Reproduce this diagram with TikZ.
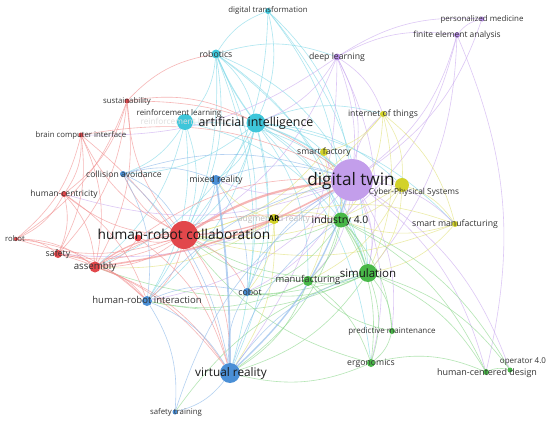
\documentclass[tikz,border=0pt]{standalone}
\usepackage{fontspec}
\setmainfont{Open Sans}
\pgfdeclarelayer{bg}
\pgfsetlayers{bg,main}
\definecolor{cR}{HTML}{E2474B}
\definecolor{cC}{HTML}{3EC6DA}
\definecolor{cB}{HTML}{4A8FD6}
\definecolor{cG}{HTML}{48B848}
\definecolor{cY}{HTML}{D2D22A}
\definecolor{cP}{HTML}{B88DE8}
\definecolor{cRl}{HTML}{F29090}
\definecolor{cCl}{HTML}{80D9E8}
\definecolor{cBl}{HTML}{8CB8EA}
\definecolor{cGl}{HTML}{8CD88C}
\definecolor{cYl}{HTML}{E2E27A}
\definecolor{cPl}{HTML}{CBAAF0}
\definecolor{txt}{HTML}{333333}
\begin{document}
\begin{tikzpicture}[x=1pt,y=-1pt,
  kw/.style={circle,inner sep=0pt,minimum size=#1,draw=none},
  link/.style={draw=#1,opacity=0.65,line width=0.6pt},
  lab/.style={font=\fontsize{#1}{#1}\selectfont,text=txt,inner sep=0pt},
  big/.style={font=\fontsize{#1}{#1}\selectfont,text=black!90,inner sep=0pt}]
\useasboundingbox (0,0) rectangle (550,423);
% nodes
\node[kw=6,fill=cC] (dtf) at (268,11) {};
\node[kw=9,fill=cC] (rb) at (216,54) {};
\node[kw=16,fill=cC] (rl) at (185,122) {};
\node[kw=19,fill=cC] (ai) at (256,123) {};
\node[kw=7,fill=cP] (dl) at (337,57) {};
\node[kw=5,fill=cP] (pmed) at (482,19) {};
\node[kw=6,fill=cP] (fea) at (457,35) {};
\node[kw=42,fill=cP!85] (dtw) at (352,180) {};
\node[kw=6,fill=cY] (iot) at (383,114) {};
\node[kw=8,fill=cY] (sf) at (324,152) {};
\node[kw=14,fill=cY] (cps) at (402,185) {};
\node[kw=10,fill=cY] (ar) at (274,219) {};
\node[kw=6,fill=cY] (sm) at (455,224) {};
\node[kw=5,fill=cR] (sus) at (127,101) {};
\node[kw=5,fill=cR] (bci) at (81,135) {};
\node[kw=6,fill=cR] (hc) at (64,194) {};
\node[kw=4,fill=cR] (robot) at (16,239) {};
\node[kw=8,fill=cR] (safety) at (58,254) {};
\node[kw=11,fill=cR] (ass) at (95,267) {};
\node[kw=7,fill=cR] (red) at (138,238) {};
\node[kw=28,fill=cR] (hrc) at (184,235) {};
\node[kw=6,fill=cB] (ca) at (123,174) {};
\node[kw=10,fill=cB] (mr) at (216,180) {};
\node[kw=10,fill=cB] (hri) at (147,301) {};
\node[kw=8,fill=cB] (cobot) at (247,292) {};
\node[kw=20,fill=cB] (vr) at (230,373) {};
\node[kw=5,fill=cB] (st) at (175,412) {};
\node[kw=15,fill=cG] (ind) at (341,220) {};
\node[kw=18,fill=cG] (sim) at (368,273) {};
\node[kw=10,fill=cG] (man) at (308,281) {};
\node[kw=6,fill=cG] (pdm) at (392,331) {};
\node[kw=8,fill=cG] (erg) at (371,363) {};
\node[kw=6,fill=cG] (hcd) at (486,372) {};
\node[kw=5,fill=cG] (op) at (510,370) {};
% edges
\begin{pgfonlayer}{bg}
\fill[white] (0,0) rectangle (550,423);
\foreach \a/\b in {rb/dtf, rb/ai, rb/dtw, rb/hrc, rb/rl, rb/sim, rb/ind, rb/vr, rb/cobot, rb/hri, rb/dl,
  dtf/ai, dtf/dtw, dtf/ind, dtf/hrc, dtf/sim,
  ai/hrc, ai/ind, ai/sim, ai/vr, ai/mr, ai/cobot, ai/man, ai/iot, ai/ca, ai/hri, ai/sf, ai/cps, ai/erg, ai/ass, ai/sm,
  rl/hrc, rl/ca, rl/dtw, rl/ass, rl/hri, rl/ind}
  \draw[link=cCl] (\a) to[bend left=18] (\b);
\foreach \a/\b in {dl/dtw, dl/fea, dl/ai, dl/hrc, dl/sim, dl/iot, dl/pmed, dl/bci, dl/ind, dl/vr,
  fea/dtw, fea/pmed, fea/sim, fea/hcd, fea/ind, pmed/dtw,
  dtw/sim, dtw/ind, dtw/cps, dtw/sf, dtw/iot, dtw/man, dtw/sm, dtw/cobot, dtw/mr, dtw/pdm, dtw/erg, dtw/hcd, dtw/op, dtw/hri, dtw/safety, dtw/hc}
  \draw[link=cPl] (\a) to[bend left=18] (\b);
\foreach \a/\b in {iot/cps, iot/ind, iot/sf, iot/sm, iot/hrc, iot/sim,
  sf/ind, sf/hrc, sf/man, cps/ind, cps/sm, cps/sim, cps/hrc, cps/man,
  ar/hrc, ar/vr, ar/ind, ar/dtw, ar/ass, ar/mr, ar/sm, ar/cobot, sm/hrc, sm/ind, sm/sim}
  \draw[link=cYl] (\a) to[bend left=18] (\b);
\foreach \a/\b in {ind/hrc, ind/sim, ind/man, ind/erg, ind/hcd, ind/op, ind/vr, ind/cobot, ind/pdm,
  sim/hrc, sim/vr, sim/man, sim/erg, sim/hcd, sim/op, sim/pdm, sim/cobot, sim/hri, sim/ass,
  man/hrc, man/vr, man/erg, man/cobot, man/hri, pdm/erg, pdm/man, erg/hcd, erg/hrc, erg/vr, hcd/op, st/sim}
  \draw[link=cGl] (\a) to[bend left=18] (\b);
\foreach \a/\b in {hrc/safety, hrc/ass, hrc/robot, hrc/hc, hrc/bci, hrc/sus, hrc/ca, hrc/vr, hrc/hri, hrc/cobot, hrc/red,
  sus/robot, sus/hc, sus/safety, sus/ass, sus/ai, sus/dtw, sus/rb,
  bci/hc, bci/safety, bci/ass, bci/dtw, bci/robot, bci/vr,
  hc/safety, hc/robot, hc/ass, hc/hri, robot/safety, robot/ass, robot/hri,
  safety/ass, safety/vr, safety/hri, ass/hri, ass/vr, ass/ind, red/dtw, red/vr, red/ass}
  \draw[link=cRl] (\a) to[bend left=18] (\b);
\foreach \a/\b in {ca/hri, ca/vr, ca/hrc, ca/mr, ca/dtw, mr/hrc, mr/dtw, mr/cobot,
  hri/vr, hri/cobot, hri/st, hri/dtw, vr/st, vr/cobot, vr/sim, vr/ind, cobot/dtw, st/dtw}
  \draw[link=cBl] (\a) to[bend left=18] (\b);
\draw[link=cRl,line width=2.2pt] (hrc) to[bend left=12] (dtw);
\draw[link=cRl,line width=1.6pt] (ass) to[bend right=10] (dtw);
\draw[link=cRl,line width=1.2pt] (hrc) to[bend right=8] (ar);
\draw[link=cRl,line width=1.2pt] (ass) to[bend left=15] (hrc);
\draw[link=cBl,line width=1.8pt] (mr) to[bend left=4] (vr);
\draw[link=cBl,line width=1.4pt] (vr) to[bend right=14] (dtw);
\draw[link=cCl,line width=1.4pt] (ai) to[bend left=10] (dtw);
\draw[link=cCl,line width=1.2pt] (rb) to[bend right=6] (ai);
\draw[link=cGl,line width=1.2pt] (ind) to[bend left=8] (sim);
\end{pgfonlayer}
% labels
\node[lab=8.3,text=gray!25] (rll2) at (185,122) {reinforcement learning};
\node[lab=8.5,text=gray!50] (arl2) at (274,219) {augmented reality};
\node[kw=10,fill=cY] (ar2) at (274,219) {};
\node[lab=7.8] (dtfl) at (268,10) {digital transformation};
\node[lab=8.7] (rbl) at (216,54) {robotics};
\node[lab=7.9] (pmedl) at (482,19) {personalized medicine};
\node[lab=8.4] (feal) at (457,35) {finite element analysis};
\node[lab=8.7] (dll) at (337,57) {deep learning};
\node[lab=7.8] (susl) at (127,101) {sustainability};
\node[lab=7.9] (rll) at (179,113) {reinforcement learning};
\node[big=12.4] (ail) at (256,123) {artificial intelligence};
\node[lab=8.7] (iotl) at (383,114) {internet of things};
\node[lab=7.8] (bcil) at (81,135) {brain computer interface};
\node[lab=8.6] (sfl) at (324,152) {smart factory};
\node[lab=8.6] (cal) at (124,174) {collision avoidance};
\node[lab=8.9] (mrl) at (216,180) {mixed reality};
\node[big=17.2] (dtwl) at (351,181) {digital twin};
\node[lab=8.3] (cpsl) at (414,192) {Cyber-Physical Systems};
\node[lab=8.5] (hcl) at (64,194) {human-centricity};
\node[lab=8,font=\fontsize{8}{8}\bfseries,text=black] (arl) at (274,219) {AR};
\node[big=10.3] (indl) at (340,221) {industry 4.0};
\node[lab=8.7] (sml) at (455,224) {smart manufacturing};
\node[big=13.7] (hrcl) at (184,234) {human-robot collaboration};
\node[lab=7.7] (robotl) at (15,239) {robot};
\node[lab=8.8] (safetyl) at (58,254) {safety};
\node[lab=9.7] (assl) at (95,267) {assembly};
\node[big=11.5] (siml) at (368,273) {simulation};
\node[lab=9.4] (manl) at (308,280) {manufacturing};
\node[lab=8.8] (cobotl) at (250,292) {cobot};
\node[lab=9.5] (hril) at (147,300) {human-robot interaction};
\node[lab=8] (pdml) at (392,331) {predictive maintenance};
\node[lab=8.7] (ergl) at (371,363) {ergonomics};
\node[lab=8] (opl) at (523,362) {operator 4.0};
\node[lab=9] (hcdl) at (487,373) {human-centered design};
\node[big=11.8] (vrl) at (231,373) {virtual reality};
\node[lab=7.8] (stl) at (176,412) {safety training};
\end{tikzpicture}
\end{document}
